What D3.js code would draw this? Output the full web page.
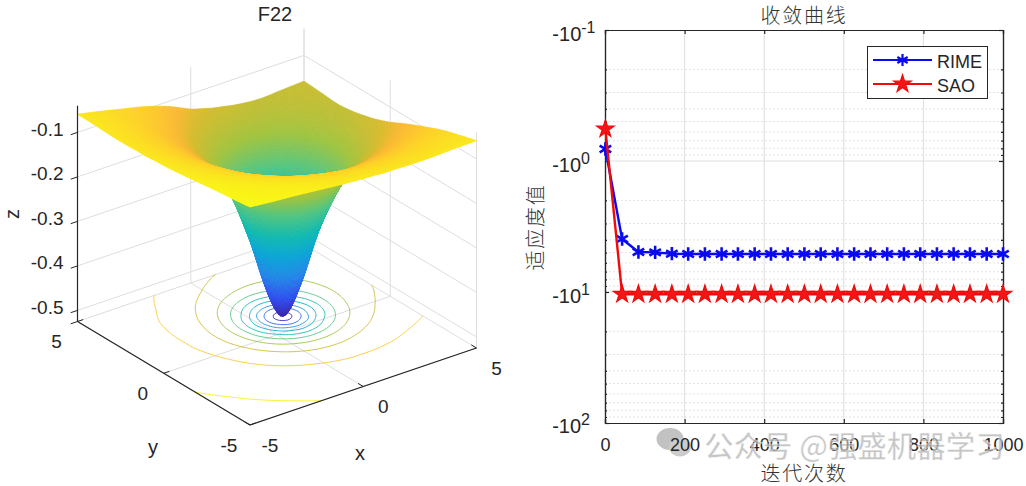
<!DOCTYPE html>
<html><head><meta charset="utf-8">
<script src="https://cdn.jsdelivr.net/npm/d3@7"></script>
<style>
html,body{margin:0;padding:0;background:#fff;overflow:hidden}
svg{display:block}
text{font-family:"Liberation Sans",Arial,sans-serif;fill:#262626;font-size:19px}
.cjk{font-family:"Noto Sans CJK SC",sans-serif;font-weight:300;fill:#333;font-size:20px;letter-spacing:1.7px}
.big{font-size:20px}
.tk18{font-size:18px}
</style></head><body>
<svg id="c" width="1026" height="486"></svg>
<script>
// ---------- left panel data: F22 surface ----------
// Provenance: corner heights and contour rings were measured from the picture; the other
// nodes are hand estimates from a Shekel-style model fitted to those readings, not pixel
// readings. Mesh values between nodes are smooth interpolation for drawing.
const gridCoords = [-5,-4,-3,-2,-1,0,0.5,1,1.5,2,3,4,5];
const zGrid = [
[-.035,-.040,-.044,-.049,-.054,-.058,-.059,-.061,-.061,-.062,-.062,-.060,-.059],
[-.040,-.045,-.051,-.058,-.066,-.072,-.074,-.076,-.077,-.077,-.076,-.073,-.070],
[-.044,-.051,-.060,-.071,-.082,-.092,-.096,-.099,-.099,-.099,-.095,-.088,-.082],
[-.049,-.058,-.071,-.087,-.107,-.127,-.135,-.139,-.139,-.135,-.123,-.106,-.094],
[-.054,-.066,-.082,-.107,-.143,-.189,-.208,-.217,-.213,-.199,-.163,-.134,-.111],
[-.058,-.072,-.092,-.127,-.189,-.294,-.349,-.375,-.356,-.307,-.214,-.161,-.134],
[-.059,-.074,-.096,-.135,-.208,-.349,-.433,-.474,-.440,-.363,-.235,-.171,-.142],
[-.061,-.076,-.099,-.139,-.217,-.375,-.474,-.524,-.482,-.390,-.247,-.179,-.149],
[-.061,-.077,-.099,-.139,-.213,-.356,-.440,-.482,-.448,-.372,-.246,-.183,-.154],
[-.062,-.077,-.099,-.135,-.199,-.307,-.363,-.390,-.372,-.325,-.235,-.183,-.159],
[-.062,-.076,-.095,-.123,-.163,-.214,-.235,-.247,-.246,-.235,-.204,-.178,-.164],
[-.060,-.073,-.088,-.109,-.134,-.161,-.171,-.179,-.183,-.183,-.178,-.168,-.161],
[-.059,-.070,-.082,-.098,-.115,-.134,-.142,-.149,-.154,-.159,-.164,-.161,-.158]
];
const contourLevels = [-.5,-.45,-.4,-.35,-.3,-.25,-.2,-.15,-.1,-.05];
const zTicks = [-.1,-.2,-.3,-.4,-.5];
const xyTicks = [-5,0,5];
const zDomain = [-.525,-.04];
const colorStops = ["#3a22a5","#3350f0","#2688e8","#0fa6d8","#14bbb0","#50c585","#a0c43f","#d8bb2e","#fbb935","#fdd02a","#f9fb15"];
const colorPositions = [0,.111,.222,.333,.444,.556,.667,.778,.825,.889,1];
const surfaceTitle = "F22";
const xName = "x", yName = "y", zName = "z";

// ---------- right panel data: convergence curves ----------
const iterations = [1,43,84,126,168,209,251,293,334,376,417,459,501,542,584,626,667,709,751,792,834,876,917,959,1000];
const rimeValues = [-.81,-3.94,-4.95,-4.98,-5.1,-5.13,-5.13,-5.13,-5.13,-5.13,-5.13,-5.13,-5.13,-5.13,-5.13,-5.13,-5.13,-5.13,-5.13,-5.13,-5.13,-5.13,-5.13,-5.13,-5.13];
const saoValues = [-.57,-10.4,-10.4,-10.4,-10.4,-10.4,-10.4,-10.4,-10.4,-10.4,-10.4,-10.4,-10.4,-10.4,-10.4,-10.4,-10.4,-10.4,-10.4,-10.4,-10.4,-10.4,-10.4,-10.4,-10.4];
const xTicksR = [0,200,400,600,800,1000];
const decades = [.1,1,10,100];
const decadeExp = ["-1","0","1","2"];
const minorMult = [2,3,4,5,6,7,8,9];
const seriesNames = ["RIME","SAO"];
const rightTitle = "收敛曲线", rightX = "迭代次数", rightY = "适应度值";
const watermark = "公众号 @强盛机器学习";

const svg = d3.select("#c");
const ink = "#262626", gridCol = "#dedede";

// ---------- 3D projection through linear scales ----------
const front = [250,425];
const xPx = d3.scaleLinear([-5,5],[0,226.5]), xPy = d3.scaleLinear([-5,5],[0,-77]);
const yPx = d3.scaleLinear([-5,5],[0,-172.5]), yPy = d3.scaleLinear([-5,5],[0,-103.5]);
const zPy = d3.scaleLinear(zDomain,[0,-215.8]);
const proj = (x,y,z) => [front[0]+xPx(x)+yPx(y), front[1]+xPy(x)+yPy(y)+zPy(z)];
const line2 = d3.line();

const gL = svg.append("g");
const pl = (pts,col,w) => gL.append("path").attr("d",line2(pts)).attr("fill","none").attr("stroke",col).attr("stroke-width",w);
const zTop = zDomain[1], zBot = zDomain[0];

// back walls and floor grid
zTicks.forEach(z=>pl([proj(-5,5,z),proj(5,5,z),proj(5,-5,z)],gridCol,1));
xyTicks.forEach(v=>{
  pl([proj(v,5,zBot),proj(v,5,zTop)],gridCol,1);
  pl([proj(5,v,zBot),proj(5,v,zTop)],gridCol,1);
  pl([proj(v,-5,zBot),proj(v,5,zBot)],gridCol,1);
  pl([proj(-5,v,zBot),proj(5,v,zBot)],gridCol,1);
});

// surface sampling
const colorScale = d3.scaleLinear(colorPositions,colorStops).clamp(true);
const zExtent = [d3.min(zGrid.flat()),d3.max(zGrid.flat())];
const norm = d3.scaleLinear(zExtent,[0,1]);
function hermite(xs,vs,t){
  let i = Math.min(xs.length-2,Math.max(0,d3.bisectRight(xs,t)-1));
  const tan = k => k===0?(vs[1]-vs[0])/(xs[1]-xs[0]):k===xs.length-1?(vs[k]-vs[k-1])/(xs[k]-xs[k-1]):(vs[k+1]-vs[k-1])/(xs[k+1]-xs[k-1]);
  const h = xs[i+1]-xs[i], s=(t-xs[i])/h, s2=s*s, s3=s2*s;
  return (2*s3-3*s2+1)*vs[i]+(s3-2*s2+s)*h*tan(i)+(-2*s3+3*s2)*vs[i+1]+(s3-s2)*h*tan(i+1);
}
const N = 121;
const mesh = d3.scaleLinear([0,N-1],[-5,5]);
const fine = [];
for(let i=0;i<N;i++){fine.push(new Float64Array(N));}
for(let j=0;j<N;j++){
  const yy=mesh(j);
  const col=zGrid.map(r=>hermite(gridCoords,r,yy));
  for(let i=0;i<N;i++) fine[i][j]=hermite(gridCoords,col,mesh(i));
}

// floor contours
const flat = new Float64Array(N*N);
for(let i=0;i<N;i++)for(let j=0;j<N;j++)flat[i+j*N]=-fine[i][j];
const contours = d3.contours().size([N,N]).thresholds(contourLevels.map(l=>-l))(flat);
const toData = p => d3.scaleLinear([.5,N-.5],[-5,5]).clamp(true)(p);
contours.forEach(c=>{
  const lvl=-c.value; const segs=[];
  c.coordinates.forEach(poly=>poly.forEach(ring=>{
    let cur=[];
    ring.forEach(p=>{
      const edge=p[0]<=0||p[0]>=N||p[1]<=0||p[1]>=N;
      if(edge){ if(cur.length>1)segs.push(cur); cur=[]; }
      else cur.push(proj(toData(p[0]),toData(p[1]),zBot));
    });
    if(cur.length>1)segs.push(cur);
  }));
  gL.append("path").attr("d",segs.map(s=>line2(s)).join("")).attr("fill","none")
    .attr("stroke",colorScale(norm(lvl))).attr("stroke-width",.9);
});

// surface, painted back to front
const cells=[];
for(let i=N-2;i>=0;i--)for(let j=N-2;j>=0;j--)cells.push([i,j]);
gL.append("g").attr("stroke-linejoin","round").selectAll("path").data(cells).join("path")
  .attr("d",([i,j])=>line2([[i,j],[i+1,j],[i+1,j+1],[i,j+1]].map(([a,b])=>proj(mesh(a),mesh(b),fine[a][b])))+"Z")
  .each(function([i,j]){
    const c=colorScale(norm((fine[i][j]+fine[i+1][j]+fine[i+1][j+1]+fine[i][j+1])/4));
    d3.select(this).attr("fill",c).attr("stroke",c).attr("stroke-width",.7);
  });

// 3D axes
pl([proj(-5,5,zBot),proj(-5,5,zTop)],ink,1.2);
pl([proj(-5,5,zBot),proj(-5,-5,zBot)],ink,1.2);
pl([proj(-5,-5,zBot),proj(5,-5,zBot)],ink,1.2);
zTicks.concat([zBot]).forEach(z=>pl([proj(-5,5,z),proj(-5.3,5,z)],ink,1));
xyTicks.forEach(v=>{
  pl([proj(v,-5,zBot),proj(v,-4.7,zBot)],ink,1);
  pl([proj(-5,v,zBot),proj(-4.75,v,zBot)],ink,1);
});
const label=(x,y,t,anchor="middle",cls)=>svg.append("text").attr("x",x).attr("y",y).attr("text-anchor",anchor).attr("dominant-baseline","central").attr("class",cls||null).text(t);
zTicks.forEach(z=>{const p=proj(-5,5,z);label(p[0]-14,p[1]-3,z.toFixed(1),"end");});
xyTicks.forEach(v=>{
  const a=proj(v,-5,zBot); label(a[0]+20,a[1]+20,v);
  const b=proj(-5,v,zBot); label(b[0]-21,b[1]+20,v);
});
label(275,14,surfaceTitle,"middle","big");
label(360,453,xName,"middle","big"); label(153,447,yName,"middle","big");
svg.append("text").attr("class","big").attr("transform","translate(12,214) rotate(-90)").attr("text-anchor","middle").attr("dominant-baseline","central").text(zName);

// ---------- right panel ----------
const x = d3.scaleLinear([0,1000],[605,1003]);
const y = d3.scaleLog([.1,100],[30,423]);
const yv = v => y(-v);
const gR = svg.append("g");
const minorVals = decades.slice(0,-1).flatMap(d=>minorMult.map(m=>d*m));
minorVals.forEach(v=>{
  gR.append("line").attr("x1",x(0)).attr("x2",x(1000)).attr("y1",y(v)).attr("y2",y(v))
    .attr("stroke","#dcdcdc").attr("stroke-width",.8).attr("stroke-dasharray","2 2");
});
xTicksR.slice(1,-1).forEach(t=>gR.append("line").attr("x1",x(t)).attr("x2",x(t)).attr("y1",30).attr("y2",423).attr("stroke",gridCol).attr("stroke-width",1));
decades.slice(1,-1).forEach(d=>gR.append("line").attr("x1",x(0)).attr("x2",x(1000)).attr("y1",y(d)).attr("y2",y(d)).attr("stroke",gridCol).attr("stroke-width",1));

// watermark icon sits beneath the tick labels
const wmIcon=svg.append("g");
wmIcon.append("ellipse").attr("cx",670).attr("cy",439).attr("rx",13.5).attr("ry",11).attr("fill","#c2c2c2");
wmIcon.append("ellipse").attr("cx",680).attr("cy",447).attr("rx",11).attr("ry",9.5).attr("fill","#cccccc");

const axB = gR.append("g").attr("transform","translate(0,423)").call(d3.axisBottom(x).tickValues(xTicksR).tickSize(-4).tickPadding(15).tickFormat(d3.format("d")));
const axL = gR.append("g").attr("transform","translate(605,0)").call(d3.axisLeft(y).tickValues(decades).tickSize(-4).tickFormat(""));
const axLm = gR.append("g").attr("transform","translate(605,0)").call(d3.axisLeft(y).tickValues(minorVals).tickSize(-2).tickFormat(""));
const axT = gR.append("g").attr("transform","translate(0,30)").call(d3.axisTop(x).tickValues(xTicksR).tickSize(-4).tickFormat(""));
const axRr = gR.append("g").attr("transform","translate(1003,0)").call(d3.axisRight(y).tickValues(decades).tickSize(-4).tickFormat(""));
const axRm = gR.append("g").attr("transform","translate(1003,0)").call(d3.axisRight(y).tickValues(minorVals).tickSize(-2).tickFormat(""));
[axB,axL,axLm,axT,axRr,axRm].forEach(a=>{a.selectAll("path,line").attr("stroke",ink).attr("stroke-width",1.2);a.attr("font-family",null).attr("font-size",null);});
axB.selectAll("text").attr("class","tk18");
wmIcon.raise(); gR.raise();
decades.forEach((d,i)=>{
  const t=gR.append("text").attr("class","big").attr("x",i===0?595.5:590).attr("y",y(d)+(i===3?10:11)).attr("text-anchor","end");
  t.append("tspan").text("-10");
  t.append("tspan").attr("dy",-8).style("font-size","16px").text(decadeExp[i]);
});

const lineGen=d3.line().x((d,i)=>x(iterations[i])).y(d=>yv(d));
const cols=["#0a0af0","#f00a0a"];
[rimeValues,saoValues].forEach((vals,k)=>{
  gR.append("path").attr("d",lineGen(vals)).attr("fill","none").attr("stroke",cols[k]).attr("stroke-width",2.4);
  gR.append("g").selectAll("path").data(vals).join("path")
    .attr("transform",(d,i)=>`translate(${x(iterations[i])},${yv(d)})`)
    .attr("d",k===0?d3.symbol(d3.symbolAsterisk,125)():d3.symbol(d3.symbolStar,95)())
    .attr("fill",k===0?"none":"#f21616").attr("stroke",cols[k]).attr("stroke-width",k===0?2.6:1.2);
});

// legend
const lg=gR.append("g");
lg.append("rect").attr("x",867.5).attr("y",46.5).attr("width",120).attr("height",52).attr("fill","#fff").attr("stroke",ink).attr("stroke-width",1);
seriesNames.forEach((n,k)=>{
  const ly=k===0?60:84;
  lg.append("line").attr("x1",873).attr("x2",932).attr("y1",ly).attr("y2",ly).attr("stroke",cols[k]).attr("stroke-width",2);
  lg.append("path").attr("transform",`translate(902.5,${ly})`)
    .attr("d",k===0?d3.symbol(d3.symbolAsterisk,100)():d3.symbol(d3.symbolStar,95)())
    .attr("fill",k===0?"none":"#f21616").attr("stroke",cols[k]).attr("stroke-width",k===0?2.2:1.2);
  lg.append("text").attr("class","tk18").attr("x",937).attr("y",ly+2).attr("dominant-baseline","central").text(n);
});

label(804,14,rightTitle,"middle","cjk");
label(804,472,rightX,"middle","cjk");
svg.append("text").attr("class","cjk").attr("transform","translate(534,227) rotate(-90)").attr("text-anchor","middle").attr("dominant-baseline","central").text(rightY);

// watermark text
svg.append("text").attr("x",704).attr("y",444).attr("dominant-baseline","central")
  .style("font-family",'"Noto Sans CJK SC",sans-serif').style("font-size","29.5px").style("font-weight",500).style("fill","#b4b4b4").attr("opacity",.75).attr("stroke","#fff").attr("stroke-width",.5).text(watermark);
</script>
</body></html>
